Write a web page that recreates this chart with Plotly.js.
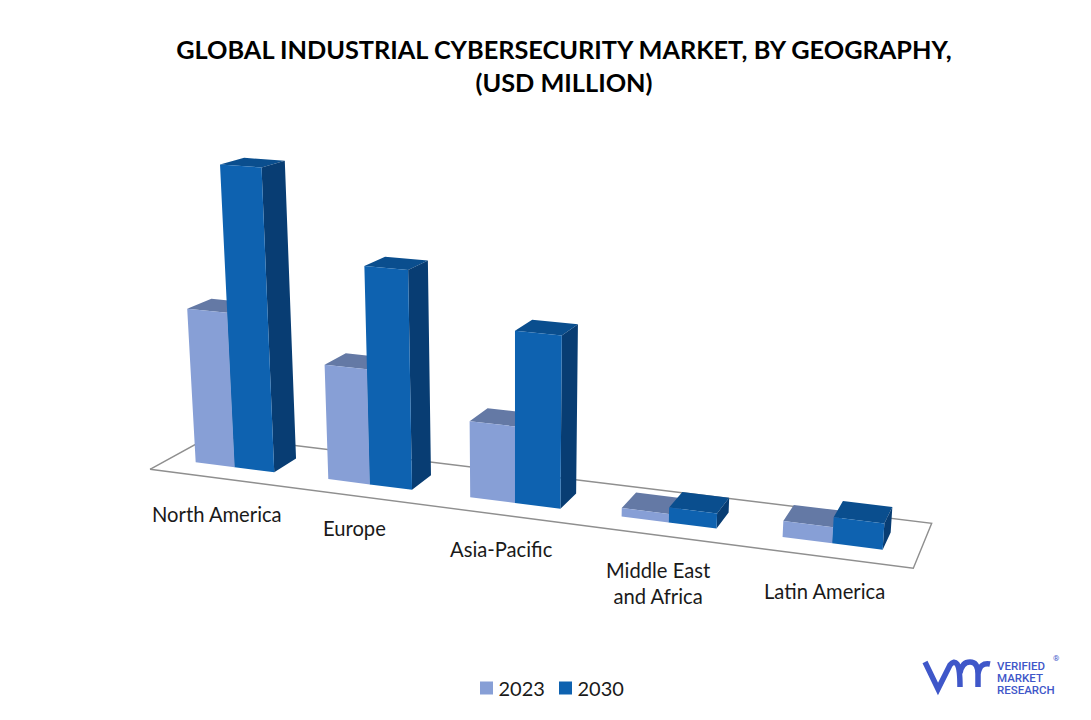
<!DOCTYPE html>
<html>
<head>
<meta charset="utf-8">
<script src="https://cdn.plot.ly/plotly-3.0.1.min.js"></script>
<style>html,body{margin:0;padding:0;background:#fff}#chart{width:1091px;height:720px}</style>
</head>
<body>
<div id="chart"></div>
<script>
// ---- data (relative market size, USD million estimate) ----
const categories = ["North America", "Europe", "Asia-Pacific", "Middle East<br>and Africa", "Latin America"];
const seriesNames = ["2023", "2030"];
const values2023 = [2620, 1925, 1260, 140, 255];
const values2030 = [5010, 3590, 2790, 245, 415];
const chartTitle = "GLOBAL INDUSTRIAL CYBERSECURITY MARKET, BY GEOGRAPHY,<br>(USD MILLION)";

// ---- perspective of the tilted floor ----
const floor = {A:[150,469.3], B:[913.3,568.3], C:[931.7,523.3], D:[212,435.3]};
const slotStart = [0.04, 0.234, 0.432, 0.633, 0.836];
const slotSeriesWidth = [0.058, 0.059, 0.0605, 0.0605, 0.0605];
const depthFront = 0.295, depthBack = 0.68;
const vanish = [515, 6250], heightScale = 1e-5;

const {A,B,C,D} = floor;
const dx1=B[0]-C[0], dx2=D[0]-C[0], sx=A[0]-B[0]+C[0]-D[0];
const dy1=B[1]-C[1], dy2=D[1]-C[1], sy=A[1]-B[1]+C[1]-D[1];
const den=dx1*dy2-dx2*dy1;
const hg=(sx*dy2-dx2*sy)/den, hh=(dx1*sy-sx*dy1)/den;
const ha=B[0]-A[0]+hg*B[0], hb=D[0]-A[0]+hh*D[0], hc=A[0];
const hd=B[1]-A[1]+hg*B[1], he=D[1]-A[1]+hh*D[1], hf=A[1];
function project(u,v,val){
  const w=hg*u+hh*v+1, gx=(ha*u+hb*v+hc)/w, gy=(hd*u+he*v+hf)/w;
  const zk=val*heightScale, t=zk/(w-zk);
  return [gx+(gx-vanish[0])*t, gy+(gy-vanish[1])*t];
}
function polys(values, k, face){
  const xs=[], ys=[];
  values.forEach((val,i)=>{
    const u0=slotStart[i]+k*slotSeriesWidth[i], u1=u0+slotSeriesWidth[i];
    const pts = face==="front" ? [[u0,depthFront,0],[u1,depthFront,0],[u1,depthFront,val],[u0,depthFront,val]]
              : face==="side"  ? [[u1,depthFront,0],[u1,depthBack,0],[u1,depthBack,val],[u1,depthFront,val]]
              :                  [[u0,depthFront,val],[u1,depthFront,val],[u1,depthBack,val],[u0,depthBack,val]];
    pts.concat([pts[0]]).forEach(p=>{const q=project(p[0],p[1],p[2]); xs.push(q[0]); ys.push(q[1]);});
    xs.push(null); ys.push(null);
  });
  return {x:xs,y:ys};
}
function face(values,k,f,color,name){
  const p=polys(values,k,f);
  return {type:"scatter",mode:"lines",x:p.x,y:p.y,fill:"toself",fillcolor:color,
          line:{width:0,color:color},name:name,showlegend:false,hoverinfo:"name"};
}
const colors = {"2023":{front:"#879FD6",top:"#6479A5",side:"#5F72A0"},
                "2030":{front:"#0E62B0",top:"#0A4E8E",side:"#083D73"}};
const fq=[A,B,C,D,A];
const traces=[
  {type:"scatter",mode:"lines",x:fq.map(p=>p[0]),y:fq.map(p=>p[1]),line:{color:"#8F8F8F",width:1.4},showlegend:false,hoverinfo:"skip"},
  face(values2023,0,"side",colors["2023"].side,"2023"),
  face(values2023,0,"top",colors["2023"].top,"2023"),
  face(values2023,0,"front",colors["2023"].front,"2023"),
  face(values2030,1,"top",colors["2030"].top,"2030"),
  face(values2030,1,"side",colors["2030"].side,"2030"),
  face(values2030,1,"front",colors["2030"].front,"2030"),
  {type:"scatter",mode:"markers",x:[null],y:[null],name:seriesNames[0],marker:{symbol:"square",size:13,color:colors["2023"].front},showlegend:true},
  {type:"scatter",mode:"markers",x:[null],y:[null],name:seriesNames[1],marker:{symbol:"square",size:13,color:colors["2030"].front},showlegend:true}
];

const labelPos=[[217,514],[354,528],[501,549],[658,582.5],[824,591]];
const labelFont={family:"Lato, 'Open Sans', sans-serif",size:20.2,color:"#1a1a1a"};
const annotations=categories.map((c,i)=>({xref:"x",yref:"y",x:labelPos[i][0],y:labelPos[i][1],text:c,showarrow:false,
  font:labelFont,xanchor:"center",yanchor:"middle",align:"center"}));
const logoColor="#3F57C9";
[["VERIFIED",666],["MARKET",678],["RESEARCH",690]].forEach(r=>annotations.push({xref:"x",yref:"y",x:995,y:r[1],text:r[0],showarrow:false,
  font:{family:"Roboto, sans-serif",size:11.5,color:logoColor,weight:500},xanchor:"left",yanchor:"middle"}));
annotations.push({xref:"x",yref:"y",x:1056,y:658,text:"®",showarrow:false,font:{family:"Roboto, sans-serif",size:8,color:logoColor},xanchor:"center",yanchor:"middle"});

const layout={
  width:1091,height:720,margin:{l:0,r:0,t:0,b:0},paper_bgcolor:"#fff",plot_bgcolor:"#fff",
  xaxis:{range:[0,1091],visible:false,fixedrange:true},
  yaxis:{range:[720,0],visible:false,fixedrange:true},
  title:{text:"<b>"+chartTitle.replace("<br>","</b><br><b>")+"</b>",x:564/1091,xanchor:"center",xref:"paper",y:1-59/720,yanchor:"top",yref:"paper",
    font:{family:"Lato, sans-serif",size:25.3,color:"#000"}},
  showlegend:true,
  legend:{orientation:"h",x:458.5/1091,xanchor:"left",y:1-688/720,yanchor:"middle",entrywidth:34,entrywidthmode:"pixels",
    font:{family:"Lato, sans-serif",size:20,color:"#1a1a1a"},bgcolor:"rgba(0,0,0,0)",traceorder:"normal"},
  annotations:annotations,
  shapes:[{type:"path",xref:"x",yref:"y",path:"M925,662 L938,689 L950,665 Q954,660 957,664 Q960,668 960,687 M960,673 Q962,662 970,662 Q978,662 978,674 L978,687 M978,674 Q980,662 990,664",
    line:{color:logoColor,width:5.5},fillcolor:"rgba(0,0,0,0)"}]
};
Plotly.newPlot("chart",traces,layout,{displayModeBar:false,responsive:false}).then(()=>{
  // the reference keeps its legend swatches closer to the text, and its last label must not be clipped
  document.querySelectorAll("#chart .legend .legendpoints").forEach(g=>g.setAttribute("transform","translate(8,0)"));
  document.querySelectorAll("#chart .legend .scrollbox").forEach(g=>g.removeAttribute("clip-path"));
  document.querySelectorAll("#chart .legend").forEach(g=>g.style.overflow="visible");
});
</script>
</body>
</html>
